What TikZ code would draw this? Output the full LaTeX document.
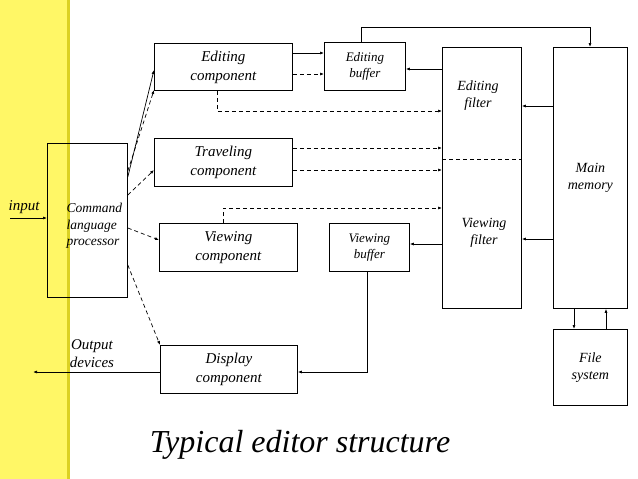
\documentclass[tikz,border=0pt]{standalone}
\usepackage{fontspec}
\setmainfont{Liberation Serif}
\usetikzlibrary{arrows.meta}
\begin{document}
\begin{tikzpicture}[x=1pt,y=-1pt,
  box/.style={draw,line width=0.8pt,align=center,font=\itshape\fontsize{15}{19}\selectfont,inner sep=0pt,anchor=north west},
  sbox/.style={box,font=\itshape\fontsize{13}{16}\selectfont},
  lbl/.style={font=\itshape\fontsize{15}{18}\selectfont,align=center},
  arr/.style={-{Latex[length=4pt,width=3pt]},line width=0.7pt},
  darr/.style={arr,dash pattern=on 4pt off 3pt}]
\useasboundingbox (0,0) rectangle (638,479);
\fill[yellow!60] (0,0) rectangle (70,479);
\fill[yellow!60!black!40!yellow] (67,0) rectangle (70,479);
\node[box,minimum width=80pt,minimum height=154pt] (clp) at (47,143) {};
\node[lbl,font=\itshape\fontsize{13.5}{16.5}\selectfont,align=left,anchor=west] (clpt) at (63,226) {Command\\language\\processor};
\node[box,minimum width=138pt,minimum height=47pt] (ec) at (154,43) {Editing\\component};
\node[box,minimum width=138pt,minimum height=48pt] (tc) at (154,138) {Traveling\\component};
\node[box,minimum width=138pt,minimum height=48pt] (vc) at (159,223) {Viewing\\component};
\node[box,minimum width=137pt,minimum height=48pt] (dc) at (160,345) {Display\\component};
\node[sbox,minimum width=81pt,minimum height=48pt] (eb) at (324,42) {Editing\\buffer};
\node[sbox,minimum width=80pt,minimum height=48pt] (vb) at (329,223) {Viewing\\buffer};
\node[box,minimum width=79pt,minimum height=261pt] (flt) at (442,47) {};
\node[lbl,font=\itshape\fontsize{14}{17}\selectfont] (eft) at (478,96) {Editing\\filter};
\node[lbl,font=\itshape\fontsize{14}{17}\selectfont] (vft) at (484,233) {Viewing\\filter};
\draw[dash pattern=on 4pt off 3pt,line width=0.7pt] (flt.west |- 0,159) -- (flt.east |- 0,159);
\node[box,font=\itshape\fontsize{14}{17}\selectfont,minimum width=74pt,minimum height=261pt] (mm) at (553,47) {Main\\memory};
\node[box,font=\itshape\fontsize{14}{17}\selectfont,minimum width=74pt,minimum height=76pt] (fs) at (553,329) {File\\system};
\node[lbl] (inp) at (24,207) {input};
\node[lbl] (out) at (92,354) {Output\\devices};
\node[lbl,font=\itshape\fontsize{32}{36}\selectfont] (title) at (300,445) {Typical editor structure};
\coordinate (outend) at (33,372);
\coordinate (inst) at (10,218);
% connectors
\draw[arr] (inst) -- (clp.west |- 0,218);
\draw[arr] (clp.east |- 0,177) -- (ec.west |- 0,70);
\draw[darr] (clp.east |- 0,171) -- (ec.west |- 0,90);
\draw[darr] (clp.east |- 0,195) -- (tc.west |- 0,170);
\draw[darr] (clp.east |- 0,228) -- (vc.west |- 0,240);
\draw[darr] (clp.east |- 0,265) -- (dc.north west);
\draw[arr] (ec.east |- 0,53) -- (eb.west |- 0,53);
\draw[darr] (ec.east |- 0,74) -- (eb.west |- 0,74);
\draw[arr] (eb.north -| 361,0) -- (361,27) -- (590,27) -- (mm.north -| 590,0);
\draw[arr] (flt.west |- 0,69) -- (eb.east |- 0,69);
\draw[darr] (ec.south -| 217,0) -- (217,111) -- (flt.west |- 0,111);
\draw[darr] (tc.east |- 0,148) -- (flt.west |- 0,148);
\draw[darr] (tc.east |- 0,170) -- (flt.west |- 0,170);
\draw[darr] (vc.north -| 223,0) -- (223,208) -- (flt.west |- 0,208);
\draw[arr] (flt.west |- 0,244) -- (vb.east |- 0,244);
\draw[arr] (mm.west |- 0,106) -- (flt.east |- 0,106);
\draw[arr] (mm.west |- 0,239) -- (flt.east |- 0,239);
\draw[arr] (mm.south -| 574,0) -- (fs.north -| 574,0);
\draw[arr] (fs.north -| 606,0) -- (mm.south -| 606,0);
\draw[arr] (vb.south -| 367,0) -- (367,372) -- (dc.east |- 0,372);
\draw[arr] (dc.west |- 0,372) -- (outend);
\end{tikzpicture}
\end{document}
